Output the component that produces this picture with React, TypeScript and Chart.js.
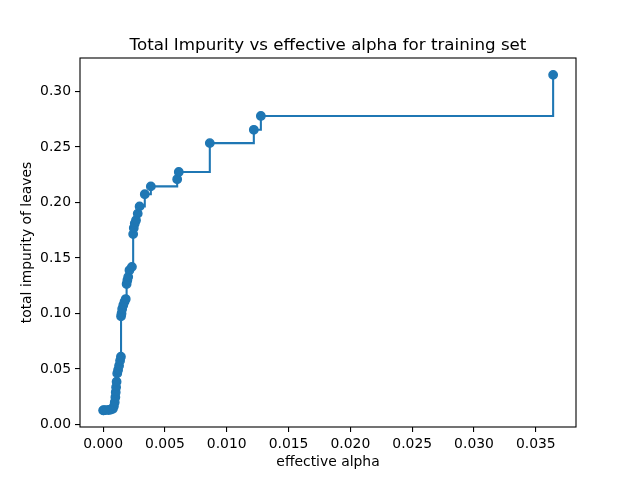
import React, { useEffect, useRef } from "react";
import { Chart, registerables } from "chart.js";

Chart.register(...registerables);

const alphas = [
  0.0, 0.00005, 0.0002, 0.00045, 0.00064, 0.00079, 0.00087, 0.00094, 0.00099, 0.00102,
  0.00105, 0.00109, 0.00114, 0.00121, 0.00129, 0.00137, 0.00144, 0.00145, 0.00149, 0.00154,
  0.00163, 0.00173, 0.00183, 0.0019, 0.00196, 0.00203, 0.00213, 0.00233, 0.00243, 0.00248,
  0.00256, 0.00266, 0.0028, 0.00295, 0.00337, 0.00386, 0.00599, 0.00612, 0.00863, 0.01219,
  0.01276, 0.0364,
];
const impurities = [
  0.0127, 0.0128, 0.0129, 0.013, 0.0134, 0.0142, 0.0165, 0.02, 0.0245, 0.029,
  0.0335, 0.0385, 0.046, 0.049, 0.053, 0.0575, 0.061, 0.0975, 0.1, 0.104,
  0.1075, 0.1105, 0.113, 0.1265, 0.13, 0.133, 0.139, 0.142, 0.1715, 0.177,
  0.181, 0.184, 0.19, 0.1965, 0.2075, 0.2145, 0.221, 0.2275, 0.2535, 0.2655,
  0.278, 0.315,
];
const xTicks = [0, 0.005, 0.01, 0.015, 0.02, 0.025, 0.03, 0.035];
const yTicks = [0, 0.05, 0.1, 0.15, 0.2, 0.25, 0.3];

const titleText = "Total Impurity vs effective alpha for training set";
const xLabel = "effective alpha";
const yLabel = "total impurity of leaves";

const FONT = "'DejaVu Sans', sans-serif";
const BLUE = "#1f77b4";

export default function App() {
  const ref = useRef<HTMLCanvasElement>(null);
  useEffect(() => {
    if (!ref.current) return;
    const frame = {
      id: "frame",
      afterDraw(chart: any) {
        const { ctx, chartArea } = chart;
        ctx.save();
        ctx.strokeStyle = "#000";
        ctx.lineWidth = 1.1;
        ctx.strokeRect(chartArea.left, chartArea.top, chartArea.right - chartArea.left, chartArea.bottom - chartArea.top);
        ctx.fillStyle = "#000";
        ctx.font = `16.7px ${FONT}`;
        ctx.textAlign = "center";
        ctx.textBaseline = "alphabetic";
        ctx.fillText(titleText, (chartArea.left + chartArea.right) / 2, chartArea.top - 8.3);
        ctx.restore();
      },
    };
    const xmin = -0.00187, xmax = 0.03825;
    const ymin = -0.0023, ymax = 0.3302;
    const chart = new Chart(ref.current, {
      type: "line",
      data: {
        datasets: [
          {
            data: alphas.map((a, i) => ({ x: a, y: impurities[i] })),
            borderColor: BLUE,
            backgroundColor: BLUE,
            borderWidth: 2.08,
            stepped: "before",
            pointRadius: 4.2,
            pointBorderWidth: 1.4,
            pointBorderColor: BLUE,
            pointBackgroundColor: BLUE,
            fill: false,
          },
        ],
      },
      options: {
        animation: false,
        responsive: false,
        devicePixelRatio: 1,
        layout: { padding: { top: 58, right: 64, left: 0, bottom: 0 } },
        plugins: { legend: { display: false }, title: { display: false }, tooltip: { enabled: false } },
        scales: {
          x: {
            type: "linear",
            min: xmin,
            max: xmax,
            border: { display: false },
            grid: { drawOnChartArea: false, drawTicks: true, tickLength: 5, color: "#000", lineWidth: 1.1 },
            ticks: {
              color: "#000",
              font: { family: FONT, size: 13.9 },
              padding: 4,
              maxRotation: 0,
              autoSkip: false,
              callback: (v: any) => Number(v).toFixed(3),
            },
            afterBuildTicks: (scale: any) => {
              scale.ticks = xTicks.map((v) => ({ value: v }));
            },
            afterFit: (scale: any) => {
              scale.height = 53;
            },
            title: {
              display: true,
              text: xLabel,
              color: "#000",
              font: { family: FONT, size: 13.9 },
              padding: { top: 0, bottom: 9 },
            },
          },
          y: {
            type: "linear",
            min: ymin,
            max: ymax,
            border: { display: false },
            grid: { drawOnChartArea: false, drawTicks: true, tickLength: 5, color: "#000", lineWidth: 1.1 },
            ticks: {
              color: "#000",
              font: { family: FONT, size: 13.9 },
              padding: 4,
              autoSkip: false,
              callback: (v: any) => Number(v).toFixed(2),
            },
            afterBuildTicks: (scale: any) => {
              scale.ticks = yTicks.map((v) => ({ value: v }));
            },
            afterFit: (scale: any) => {
              scale.width = 80;
            },
            title: {
              display: true,
              text: yLabel,
              color: "#000",
              font: { family: FONT, size: 13.9 },
              padding: { top: 19, bottom: 0 },
            },
          },
        },
      },
      plugins: [frame],
    } as any);
    return () => chart.destroy();
  }, []);
  return (
    <div style={{ position: "fixed", left: 0, top: 0, width: 640, height: 480, background: "#fff" }}>
      <canvas ref={ref} width={640} height={480} style={{ width: 640, height: 480 }} />
    </div>
  );
}
